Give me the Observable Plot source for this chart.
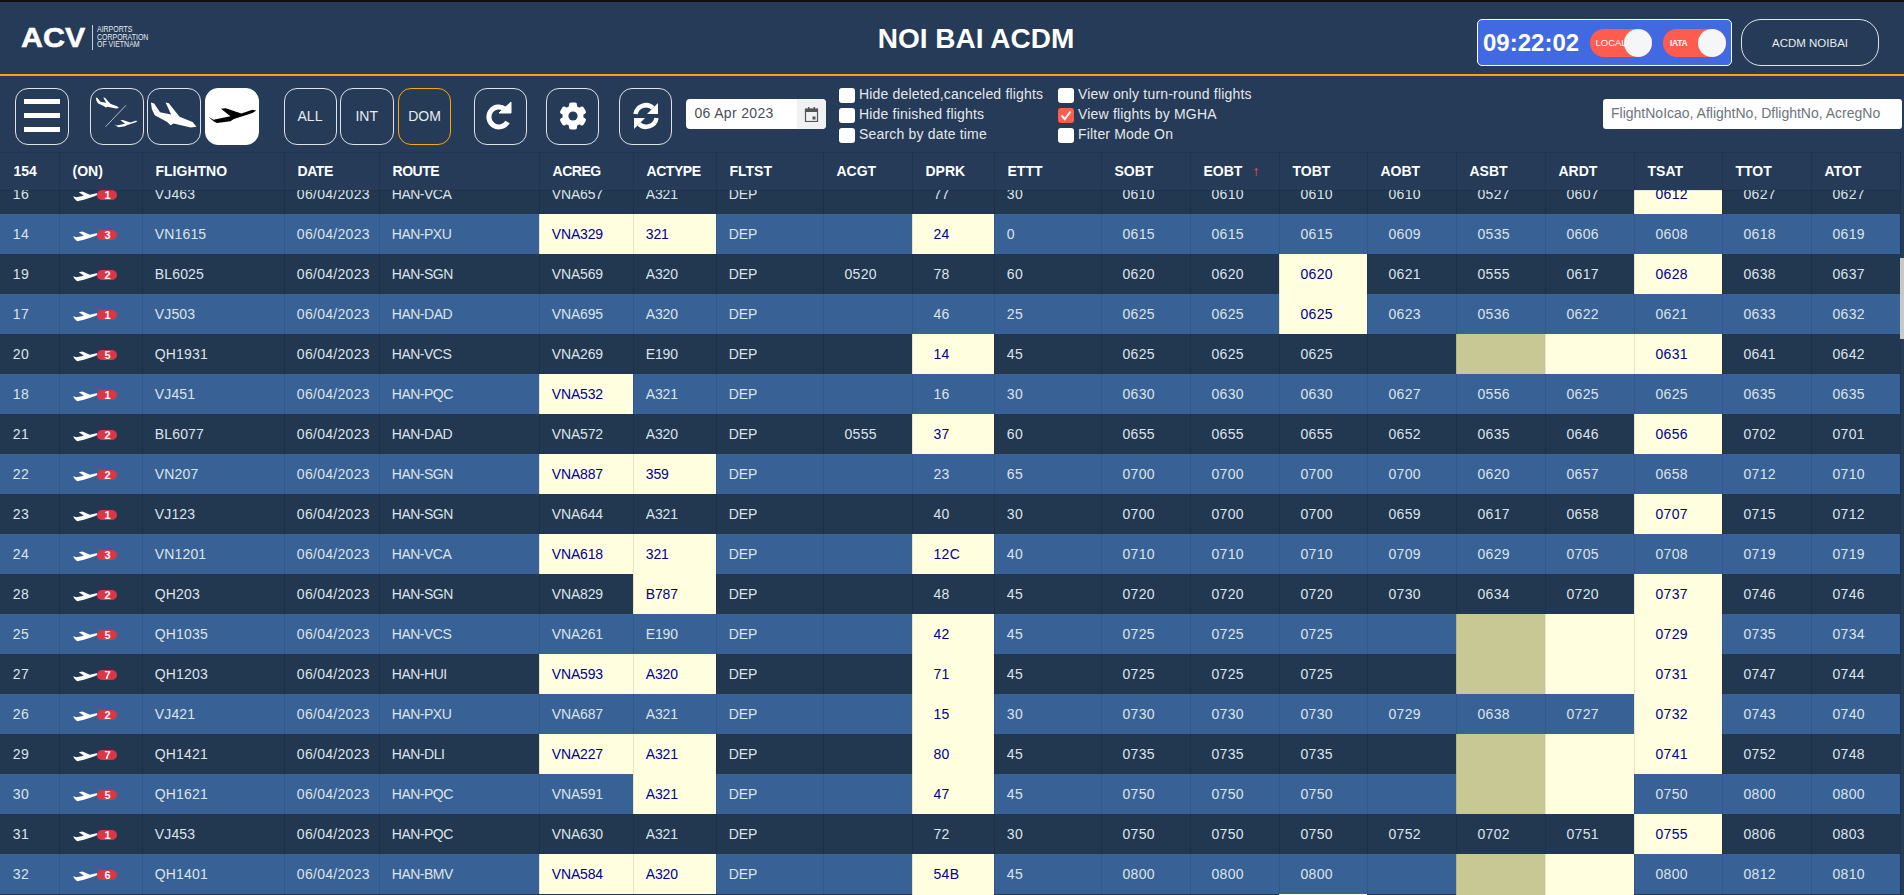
<!DOCTYPE html>
<html><head><meta charset="utf-8">
<script src="https://cdn.jsdelivr.net/npm/d3@7"></script>
<script src="https://cdn.jsdelivr.net/npm/@observablehq/plot@0.6"></script>
<style>
html,body{margin:0;padding:0;width:1904px;height:895px;overflow:hidden;background:#253b57;font-family:"Liberation Sans",Arial,sans-serif;color:#fff}
.a{position:absolute;box-sizing:border-box}
.btn{top:88px;height:56.5px;border:1px solid #dfe3e8;border-radius:13px;display:flex;align-items:center;justify-content:center;font-size:14px;color:#e8ecf2}
.chk{width:16px;height:15px;background:#fff;border-radius:3px}
.lbl{font-size:14px;color:#e4e8ee;line-height:16px;white-space:nowrap;letter-spacing:.18px}
#chart{position:absolute;left:0;top:152px}
svg{display:block}
.num text{letter-spacing:.3px}
.flt text{letter-spacing:.15px}
.rte text{letter-spacing:-.5px}
.reg text{letter-spacing:-.18px}
.hn text{letter-spacing:-.45px}
</style></head><body>
<div class="a" style="left:0;top:0;width:1904px;height:1.5px;background:#111"></div>
<div class="a" style="left:0;top:74px;width:1904px;height:2px;background:#ffa500"></div>
<div class="a" style="left:20.5px;top:22px;font:bold 28px/32px 'Liberation Sans';transform:scaleX(1.085);transform-origin:left top;-webkit-text-stroke:.5px #fff">ACV</div>
<div class="a" style="left:92px;top:25px;width:1px;height:25px;background:#c9ced6"></div>
<div class="a" style="left:97px;top:26px;font:8.5px/7.6px 'Liberation Sans';color:#e8ecf2;transform:scaleX(.82);transform-origin:left top;white-space:nowrap">AIRPORTS<br>CORPORATION<br>OF VIETNAM</div>
<div class="a" style="left:776px;width:400px;top:23px;text-align:center;font:bold 28px/32px 'Liberation Sans'">NOI BAI ACDM</div>

<div class="a" style="left:1476.5px;top:19px;width:255px;height:47px;background:#4169e1;border:1px solid #fff;border-radius:5px"></div>
<div class="a" style="left:1483px;top:29px;font:bold 24px/28px 'Liberation Sans'">09:22:02</div>
<div class="a" style="left:1589.5px;top:29px;width:62px;height:27.5px;background:#ff5c50;border-radius:14px"></div>
<div class="a" style="left:1595.5px;top:37px;font:9.5px/12px 'Liberation Sans'">LOCAL</div>
<div class="a" style="left:1623.5px;top:28.5px;width:28px;height:28px;background:#f4f6f8;border-radius:50%"></div>
<div class="a" style="left:1663px;top:29px;width:63px;height:27.5px;background:#ff5c50;border-radius:14px"></div>
<div class="a" style="left:1670px;top:37px;font:bold 8.5px/12px 'Liberation Sans';letter-spacing:-.3px">IATA</div>
<div class="a" style="left:1698px;top:28.5px;width:28px;height:28px;background:#f4f6f8;border-radius:50%"></div>
<div class="a" style="left:1741px;top:19px;width:138px;height:47px;border:1px solid #dfe3e8;border-radius:20px;display:flex;align-items:center;justify-content:center;font-size:11.5px;color:#e8ecf2">ACDM NOIBAI</div>

<div class="a btn" style="left:15px;width:53.5px"><svg width="36" height="34" viewBox="0 0 36 34"><rect y="0" width="36" height="5" fill="#fff"/><rect y="14" width="36" height="5" fill="#fff"/><rect y="28" width="36" height="5" fill="#fff"/></svg></div>
<div class="a btn" style="left:90px;width:53.5px"><svg width="53" height="56" viewBox="0 0 53 56"><g fill="#fff"><path transform="translate(5,9) scale(.17)" d="M0 0 L10 3 L28 26 L62 32 L45 0 L55 2 L88 38 L128 52 L140 64 L122 66 L70 56 L60 60 L50 52 L12 34 L3 18Z"/><path transform="translate(24,32) scale(.17)" d="M0 26 L15 34 L65 24 L37 2 L51 0 L97 16 L130 5 L141 7 L130 14 L75 32 L65 39 L25 44 L15 39Z"/></g><line x1="36" y1="17" x2="15" y2="39" stroke="#b8bec8" stroke-width="1"/></svg></div>
<div class="a btn" style="left:147px;width:53.5px"><svg width="53" height="56" viewBox="0 0 53 56"><path fill="#fff" transform="translate(3,14) scale(.335,.39)" d="M0 0 L10 3 L28 26 L62 32 L45 0 L55 2 L88 38 L128 52 L140 64 L122 66 L70 56 L60 60 L50 52 L12 34 L3 18Z"/></svg></div>
<div class="a btn" style="left:205px;width:54px;background:#fff;border-color:#fff"><svg width="53" height="56" viewBox="0 0 53 56"><path fill="#000" transform="translate(2.5,20) scale(.345)" d="M0 26 L15 34 L65 24 L37 2 L51 0 L97 16 L130 5 L141 7 L130 14 L75 32 L65 39 L25 44 L15 39Z"/></svg></div>
<div class="a btn" style="left:283.5px;width:53px">ALL</div>
<div class="a btn" style="left:340px;width:53.5px">INT</div>
<div class="a btn" style="left:398px;width:53px;border-color:#ffa500">DOM</div>
<div class="a btn" style="left:473.5px;width:53px"><svg width="30" height="30" viewBox="0 0 30 30"><path d="M22.5 21 A10 10 0 1 1 20 8" fill="none" stroke="#fff" stroke-width="5"/><path d="M14 12 L26 12 L26 1Z" fill="#fff" stroke="#fff" stroke-linejoin="round"/></svg></div>
<div class="a btn" style="left:546px;width:53px"><svg width="30" height="30" viewBox="0 0 30 30"><g fill="#fff"><rect x="11" y="1.5" width="8" height="27" rx="2"/><rect x="11" y="1.5" width="8" height="27" rx="2" transform="rotate(60 15 15)"/><rect x="11" y="1.5" width="8" height="27" rx="2" transform="rotate(120 15 15)"/><circle cx="15" cy="15" r="10.5"/></g><circle cx="15" cy="15" r="4.6" fill="#253b57"/></svg></div>
<div class="a btn" style="left:619px;width:53px"><svg width="30" height="30" viewBox="0 0 30 30"><g fill="none" stroke="#fff" stroke-width="4.5"><path d="M4.5 13 A10.5 10.5 0 0 1 22 7"/><path d="M25.5 17 A10.5 10.5 0 0 1 8 23"/></g><path d="M27 2 L27 13 L16 13Z" fill="#fff"/><path d="M3 28 L3 17 L14 17Z" fill="#fff"/></svg></div>

<div class="a" style="left:686px;top:99px;width:140px;height:29.5px;background:#fff;border-radius:4px;overflow:hidden;color:#495057;font-size:14px;line-height:29.5px;padding-left:8.5px;letter-spacing:.33px">06 Apr 2023
<div class="a" style="left:111px;top:0;width:29px;height:30px;background:#f0f1f2"><svg class="a" style="left:7px;top:7.5px" width="15" height="15" viewBox="0 0 15 15"><rect x="1.5" y="2" width="12" height="12.5" fill="none" stroke="#555" stroke-width="1.2"/><rect x="1.5" y="2" width="12" height="3" fill="#555"/><rect x="4" y="0" width="1.5" height="3" fill="#555"/><rect x="9.5" y="0" width="1.5" height="3" fill="#555"/><rect x="8.5" y="9.5" width="3" height="3" fill="#555"/></svg></div></div>

<div class="a chk" style="left:839px;top:88px"></div><div class="a lbl" style="left:859px;top:86px">Hide deleted,canceled flights</div>
<div class="a chk" style="left:839px;top:108px"></div><div class="a lbl" style="left:859px;top:106px">Hide finished flights</div>
<div class="a chk" style="left:839px;top:128px"></div><div class="a lbl" style="left:859px;top:126px">Search by date time</div>
<div class="a chk" style="left:1058px;top:88px"></div><div class="a lbl" style="left:1078px;top:86px">View only turn-round flights</div>
<div class="a chk" style="left:1058px;top:108px;background:#ff5c50"><svg width="16" height="15" viewBox="0 0 16 15"><path d="M3.5 7.5 L6.8 11.2 L12.5 3.5" fill="none" stroke="#fff" stroke-width="2"/></svg></div><div class="a lbl" style="left:1078px;top:106px">View flights by MGHA</div>
<div class="a chk" style="left:1058px;top:128px"></div><div class="a lbl" style="left:1078px;top:126px">Filter Mode On</div>

<div class="a" style="left:1603px;top:99px;width:299px;height:29.5px;background:#fff;border-radius:3px;color:#6c757d;font-size:14px;line-height:29.5px;padding-left:8px;white-space:nowrap;overflow:hidden">FlightNoIcao, AflightNo, DflightNo, AcregNo</div>

<div id="chart"></div>
<div class="a" style="left:1900px;top:258px;width:4px;height:81px;background:#c8c8c8"></div>

<script>
// ---------- table values ----------
const rowCount = "154";
const headers = ["(ON)","FLIGHTNO","DATE","ROUTE","ACREG","ACTYPE","FLTST","ACGT","DPRK","ETTT","SOBT","EOBT","TOBT","AOBT","ASBT","ARDT","TSAT","TTOT","ATOT"];
const rowNo   = ["16","14","19","17","20","18","21","22","23","24","28","25","27","26","29","30","31","32"];
const badge   = ["1","3","2","1","5","1","2","2","1","3","2","5","7","2","7","5","1","6"];
const flightNo= ["VJ463","VN1615","BL6025","VJ503","QH1931","VJ451","BL6077","VN207","VJ123","VN1201","QH203","QH1035","QH1203","VJ421","QH1421","QH1621","VJ453","QH1401"];
const flightDate = "06/04/2023";
const route   = ["HAN-VCA","HAN-PXU","HAN-SGN","HAN-DAD","HAN-VCS","HAN-PQC","HAN-DAD","HAN-SGN","HAN-SGN","HAN-VCA","HAN-SGN","HAN-VCS","HAN-HUI","HAN-PXU","HAN-DLI","HAN-PQC","HAN-PQC","HAN-BMV"];
const acreg   = ["VNA657","VNA329","VNA569","VNA695","VNA269","VNA532","VNA572","VNA887","VNA644","VNA618","VNA829","VNA261","VNA593","VNA687","VNA227","VNA591","VNA630","VNA584"];
const actype  = ["A321","321","A320","A320","E190","A321","A320","359","A321","321","B787","E190","A320","A321","A321","A321","A321","A320"];
const fltst   = "DEP";
const acgt    = ["","","0520","","","","0555","","","","","","","","","","",""];
const dprk    = ["77","24","78","46","14","16","37","23","40","12C","48","42","71","15","80","47","72","54B"];
const ettt    = ["30","0","60","25","45","30","60","65","30","40","45","45","45","30","45","45","30","45"];
const sobt    = ["0610","0615","0620","0625","0625","0630","0655","0700","0700","0710","0720","0725","0725","0730","0735","0750","0750","0800"];
const eobt    = sobt;
const tobt    = sobt;
const aobt    = ["0610","0609","0621","0623","","0627","0652","0700","0659","0709","0730","","","0729","","","0752",""];
const asbt    = ["0527","0535","0555","0536","","0556","0635","0620","0617","0629","0634","","","0638","","","0702",""];
const ardt    = ["0607","0606","0617","0622","","0625","0646","0657","0658","0705","0720","","","0727","","","0751",""];
const tsat    = ["0612","0608","0628","0621","0631","0625","0656","0658","0707","0708","0737","0729","0731","0732","0741","0750","0755","0800"];
const ttot    = ["0627","0618","0638","0633","0641","0635","0702","0712","0715","0719","0746","0735","0747","0743","0752","0800","0806","0812"];
const atot    = ["0627","0619","0637","0632","0642","0635","0701","0710","0712","0719","0746","0734","0744","0740","0748","0800","0803","0810"];
// which rows carry a highlighted cell, per column
const markedAcreg  = [1,5,7,9,12,14,17];
const markedActype = [1,7,9,10,12,14,15,17];
const markedDprk   = [1,4,6,9,11,12,13,14,15,17,18];
const markedTobt   = [2,3,18];
const markedAsbt   = [4,11,12,14,15,17,18];
const markedArdt   = markedAsbt;
const markedTsat   = [0,2,4,6,8,10,11,12,13,14,16];

// ---------- table layout ----------
const columnWidths = [59,83,142,95,160,94,83,107,89,82,107,89,89,88,89,89,89,88,89,89];
const edges = d3.cumsum(columnWidths, d => d); const starts = [0, ...edges];
const tableRight = starts[columnWidths.length];
const SMALL = 12.3, WIDE = 21;
const bodyColumns = [
  {c:0, pad:SMALL, cls:"num", v:i=>rowNo[i]},
  {c:2, pad:SMALL, cls:"flt", v:i=>flightNo[i]},
  {c:3, pad:SMALL, cls:"num", v:()=>flightDate},
  {c:4, pad:SMALL, cls:"rte", v:i=>route[i]},
  {c:5, pad:SMALL, cls:"reg", v:i=>acreg[i], marked:markedAcreg},
  {c:6, pad:SMALL, cls:"reg", v:i=>actype[i], marked:markedActype},
  {c:7, pad:SMALL, cls:"reg", v:()=>fltst},
  {c:8, pad:WIDE,  cls:"num", v:i=>acgt[i]},
  {c:9, pad:WIDE,  cls:"num", v:i=>dprk[i], marked:markedDprk},
  {c:10,pad:SMALL, cls:"num", v:i=>ettt[i]},
  {c:11,pad:WIDE,  cls:"num", v:i=>sobt[i]},
  {c:12,pad:WIDE,  cls:"num", v:i=>eobt[i]},
  {c:13,pad:WIDE,  cls:"num", v:i=>tobt[i], marked:markedTobt},
  {c:14,pad:WIDE,  cls:"num", v:i=>aobt[i]},
  {c:15,pad:WIDE,  cls:"num", v:i=>asbt[i]},
  {c:16,pad:WIDE,  cls:"num", v:i=>ardt[i]},
  {c:17,pad:WIDE,  cls:"num", v:i=>tsat[i], marked:markedTsat},
  {c:18,pad:WIDE,  cls:"num", v:i=>ttot[i]},
  {c:19,pad:WIDE,  cls:"num", v:i=>atot[i]}
];
const cells = bodyColumns.flatMap(col => rowNo.map((_,i)=>({
  x: starts[col.c]+col.pad, row:i, text: col.v(i), cls:col.cls, marked: (col.marked||[]).includes(i)
}))).filter(d=>d.text!=="");
const yellow = [[5,markedAcreg],[6,markedActype],[9,markedDprk],[13,markedTobt],[16,markedArdt],[17,markedTsat]]
    .flatMap(([c,rs])=>rs.map(row=>({c,row})));
const khaki = markedAsbt.map(row=>({c:15,row}));
const bands = d3.range(rowNo.length+1);
const hdrLabels = [rowCount,...headers].map((t,c)=>({t,x:starts[c]+13}));
const narrowHeaders = ["DATE","ROUTE","ACREG","ACTYPE"];
const HEAD_TOP=-0.55, HEAD_BOTTOM=0.4, HEAD_MID=-0.075;

// small aeroplane used in the (ON) column
const planeGlyph = {draw(ctx){
  const p=[[38,47],[48,50],[70,46],[55,35],[66,33],[88,43],[108,38],[113,42],[100,48],[70,58],[50,62],[42,55]];
  p.forEach(([x,y],i)=>{const X=(x-75)/3,Y=(y-48)/3; i?ctx.lineTo(X,Y):ctx.moveTo(X,Y);});
  ctx.closePath();
}};

const bodyTextMarks = d3.groups(cells, d=>d.cls, d=>d.marked).flatMap(([cls,g])=>g.map(([marked,list])=>
  Plot.text(list,{x:"x",y:d=>d.row+0.5,text:"text",textAnchor:"start",fill:marked?"#00008b":"#dde3ea",fontSize:14,className:cls})));

const chart = Plot.plot({
  width:1904, height:743, margin:0,
  style:{background:"transparent",fontFamily:"'Liberation Sans',Arial,sans-serif",overflow:"hidden"},
  x:{domain:[0,1904],range:[0,1904],axis:null},
  y:{domain:[HEAD_TOP,18.025],range:[0,743],axis:null},
  marks:[
    Plot.rect(bands,{x1:()=>0,x2:()=>tableRight,y1:d=>d,y2:d=>d+1,fill:d=>d%2?"#386295":"#223750"}),
    Plot.rect(yellow,{x1:d=>starts[d.c],x2:d=>starts[d.c+1],y1:d=>d.row,y2:d=>d.row+1,fill:()=>"#ffffe0"}),
    Plot.rect(khaki,{x1:d=>starts[d.c],x2:d=>starts[d.c+1],y1:d=>d.row,y2:d=>d.row+1,fill:()=>"#c8c894"}),
    Plot.ruleX(edges,{x:d=>d,y1:()=>HEAD_TOP,y2:()=>18.025,stroke:"#000",strokeOpacity:0.1}),
    ...bodyTextMarks,
    Plot.dot(rowNo,{x:()=>starts[1]+26,y:(d,i)=>i+0.55,symbol:planeGlyph,r:10,fill:"#fff",stroke:"none"}),
    Plot.rect(badge,{x1:()=>starts[1]+38,x2:()=>starts[1]+58,y1:(d,i)=>i+0.4,y2:(d,i)=>i+0.65,fill:"#dc3545",rx:5}),
    Plot.text(badge,{x:()=>starts[1]+48,y:(d,i)=>i+0.525,text:d=>d,fill:"#fff",fontSize:11,fontWeight:"bold"}),
    Plot.rect([0],{x1:()=>0,x2:()=>tableRight,y1:()=>HEAD_TOP,y2:()=>HEAD_BOTTOM,fill:"#253b57"}),
    Plot.ruleX(edges,{x:d=>d,y1:()=>HEAD_TOP,y2:()=>HEAD_BOTTOM,stroke:"#000",strokeOpacity:0.1}),
    Plot.ruleY([HEAD_TOP,HEAD_BOTTOM],{x1:()=>0,x2:()=>tableRight,y:d=>d,stroke:"#000",strokeOpacity:0.1}),
    Plot.text(hdrLabels.filter(d=>!narrowHeaders.includes(d.t)),{x:"x",y:()=>HEAD_MID,text:"t",textAnchor:"start",fill:"#fff",fontSize:14,fontWeight:"bold"}),
    Plot.text(hdrLabels.filter(d=>narrowHeaders.includes(d.t)),{x:"x",y:()=>HEAD_MID,text:"t",textAnchor:"start",fill:"#fff",fontSize:14,fontWeight:"bold",className:"hn"}),
    Plot.text(["↑"],{x:()=>starts[12]+65.5,y:()=>HEAD_MID,text:d=>d,fill:"#ff4b4b",fontSize:14})
  ]
});
document.getElementById("chart").appendChild(chart);
</script>
</body></html>
